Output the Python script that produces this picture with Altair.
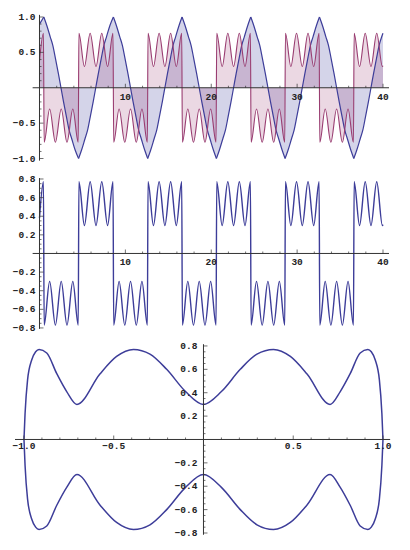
import altair as alt
import pandas as pd

# ---------------- data ----------------
# top panel, blue curve (smooth triangle-like wave with cusps at +-1)
blue_t = [
    0.0, 0.5,
    0.85, 1.25, 1.55, 1.85, 2.2, 2.5, 2.8, 3.15, 3.45, 3.75, 4.15, 4.55,
    4.9, 5.3, 5.6, 5.9, 6.25, 6.55, 6.85, 7.2, 7.5, 7.8, 8.2, 8.6,
    8.95, 9.35, 9.65, 9.95, 10.3, 10.6, 10.9, 11.25, 11.55, 11.85, 12.25, 12.6,
    12.95, 13.35, 13.65, 13.95, 14.3, 14.6, 14.9, 15.25, 15.55, 15.85, 16.25, 16.6,
    16.95, 17.35, 17.65, 17.95, 18.3, 18.6, 18.9, 19.25, 19.55, 19.85, 20.25, 20.6,
    20.95, 21.35, 21.65, 21.95, 22.3, 22.6, 22.9, 23.25, 23.55, 23.85, 24.25, 24.6,
    24.95, 25.35, 25.65, 25.95, 26.3, 26.6, 26.9, 27.25, 27.55, 27.85, 28.25, 28.6,
    28.95, 29.35, 29.65, 29.95, 30.3, 30.6, 30.9, 31.25, 31.55, 31.85, 32.25, 32.6,
    32.95, 33.35, 33.65, 33.95, 34.3, 34.6, 34.9, 35.25, 35.55, 35.85, 36.25, 36.6,
    36.95, 37.35, 37.65, 37.95, 38.3, 38.6, 38.9, 39.25, 39.55, 39.85, 40.0,
]
blue_v = [
    0.9, 1.0,
    0.88, 0.72, 0.6, 0.42, 0.2, 0.0, -0.2, -0.42, -0.6, -0.72, -0.88, -1.0,
    -0.88, -0.72, -0.6, -0.42, -0.2, 0.0, 0.2, 0.42, 0.6, 0.72, 0.88, 1.0,
    0.88, 0.72, 0.6, 0.42, 0.2, 0.0, -0.2, -0.42, -0.6, -0.72, -0.88, -1.0,
    -0.88, -0.72, -0.6, -0.42, -0.2, 0.0, 0.2, 0.42, 0.6, 0.72, 0.88, 1.0,
    0.88, 0.72, 0.6, 0.42, 0.2, 0.0, -0.2, -0.42, -0.6, -0.72, -0.88, -1.0,
    -0.88, -0.72, -0.6, -0.42, -0.2, 0.0, 0.2, 0.42, 0.6, 0.72, 0.88, 1.0,
    0.88, 0.72, 0.6, 0.42, 0.2, 0.0, -0.2, -0.42, -0.6, -0.72, -0.88, -1.0,
    -0.88, -0.72, -0.6, -0.42, -0.2, 0.0, 0.2, 0.42, 0.6, 0.72, 0.88, 1.0,
    0.88, 0.72, 0.6, 0.42, 0.2, 0.0, -0.2, -0.42, -0.6, -0.72, -0.88, -1.0,
    -0.88, -0.72, -0.6, -0.42, -0.2, 0.0, 0.2, 0.42, 0.6, 0.72, 0.77,
]

# red (square-ish, rippled) curve, shown in top and middle panels
red_t = [
    0.0, 0.46, 0.54,
    1.18, 1.85, 2.53, 3.2, 3.88, 4.51, 4.59,
    5.23, 5.9, 6.58, 7.25, 7.93, 8.56, 8.64,
    9.27, 9.93, 10.6, 11.27, 11.93, 12.56, 12.64,
    13.27, 13.93, 14.6, 15.27, 15.93, 16.56, 16.64,
    17.27, 17.93, 18.6, 19.27, 19.93, 20.56, 20.64,
    21.27, 21.93, 22.6, 23.27, 23.93, 24.56, 24.64,
    25.27, 25.93, 26.6, 27.27, 27.93, 28.56, 28.64,
    29.27, 29.93, 30.6, 31.27, 31.93, 32.56, 32.64,
    33.27, 33.93, 34.6, 35.27, 35.93, 36.56, 36.64,
    37.27, 37.93, 38.6, 39.27, 39.93, 40.0,
]
red_v = [
    0.38, 0.77, -0.77,
    -0.3, -0.77, -0.3, -0.77, -0.3, -0.77, 0.77,
    0.3, 0.77, 0.3, 0.77, 0.3, 0.77, -0.77,
    -0.3, -0.77, -0.3, -0.77, -0.3, -0.77, 0.77,
    0.3, 0.77, 0.3, 0.77, 0.3, 0.77, -0.77,
    -0.3, -0.77, -0.3, -0.77, -0.3, -0.77, 0.77,
    0.3, 0.77, 0.3, 0.77, 0.3, 0.77, -0.77,
    -0.3, -0.77, -0.3, -0.77, -0.3, -0.77, 0.77,
    0.3, 0.77, 0.3, 0.77, 0.3, 0.77, -0.77,
    -0.3, -0.77, -0.3, -0.77, -0.3, -0.77, 0.77,
    0.3, 0.77, 0.3, 0.77, 0.3, 0.31,
]

# bottom panel: parametric curve (blue, red)
param_x = [-1.0, -0.994, -0.98, -0.957, -0.935, -0.916, -0.873, -0.818, -0.762, -0.705,
           -0.577, -0.484, -0.39, -0.298, -0.205, -0.1, 0.0,
           0.1, 0.205, 0.298, 0.39, 0.484, 0.577,
           0.705, 0.762, 0.818, 0.873, 0.916, 0.935, 0.957, 0.98, 0.994, 1.0]
param_y_upper = [0.0, 0.22, 0.51, 0.68, 0.75, 0.77, 0.74, 0.565, 0.41, 0.3,
                 0.56, 0.71, 0.77, 0.73, 0.6, 0.41, 0.3,
                 0.41, 0.6, 0.73, 0.77, 0.71, 0.56,
                 0.3, 0.41, 0.565, 0.74, 0.77, 0.75, 0.68, 0.51, 0.22, 0.0]
param_y_lower = [0.0, -0.22, -0.51, -0.68, -0.75, -0.77, -0.74, -0.565, -0.41, -0.3,
                 -0.56, -0.71, -0.77, -0.73, -0.6, -0.41, -0.3,
                 -0.41, -0.6, -0.73, -0.77, -0.71, -0.56,
                 -0.3, -0.41, -0.565, -0.74, -0.77, -0.75, -0.68, -0.51, -0.22, 0.0]

# tick values and labels
t_major = [10, 20, 30, 40]
t_major_labels = ["10", "20", "30", "40"]
t_minor = [2, 4, 6, 8, 12, 14, 16, 18, 22, 24, 26, 28, 32, 34, 36, 38]
top_y_major = [-1.0, -0.5, 0.5, 1.0]
top_y_labels = ["\u22121.0", "\u22120.5", "0.5", "1.0"]
top_y_minor = [-0.9, -0.8, -0.7, -0.6, -0.4, -0.3, -0.2, -0.1,
               0.1, 0.2, 0.3, 0.4, 0.6, 0.7, 0.8, 0.9]
p8_major = [-0.8, -0.6, -0.4, -0.2, 0.2, 0.4, 0.6, 0.8]
p8_labels = ["\u22120.8", "\u22120.6", "\u22120.4", "\u22120.2", "0.2", "0.4", "0.6", "0.8"]
p8_minor = [-0.75, -0.7, -0.65, -0.55, -0.5, -0.45, -0.35, -0.3, -0.25, -0.15, -0.1, -0.05,
            0.05, 0.1, 0.15, 0.25, 0.3, 0.35, 0.45, 0.5, 0.55, 0.65, 0.7, 0.75]
bx_major = [-1.0, -0.5, 0.5, 1.0]
bx_labels = ["\u22121.0", "\u22120.5", "0.5", "1.0"]
bx_minor = [-0.9, -0.8, -0.7, -0.6, -0.4, -0.3, -0.2, -0.1,
            0.1, 0.2, 0.3, 0.4, 0.6, 0.7, 0.8, 0.9]

# ---------------- styling ----------------
BLUE = "#3d3d99"
RED = "#993d71"
AXIS = "#333333"
FONT = "Liberation Mono"
W = 394

assert len(blue_t) == len(blue_v)
assert len(red_t) == len(red_v)
assert len(param_x) == len(param_y_upper) == len(param_y_lower)

# split the blue curve at its cusps (+-1) so the peaks stay pointed
seg_rows = []
seg = 0
for t, v in zip(blue_t, blue_v):
    seg_rows.append({"t": t, "v": v, "seg": seg})
    if abs(v) >= 1.0:
        seg += 1
        seg_rows.append({"t": t, "v": v, "seg": seg})
blue_df = pd.DataFrame(seg_rows)
red_df = pd.DataFrame({"t": red_t, "v": red_v})
param_df = pd.concat([
    pd.DataFrame({"x": param_x, "y": param_y_upper, "half": "upper"}),
    pd.DataFrame({"x": param_x, "y": param_y_lower, "half": "lower"}),
])


def S(domain):
    return alt.Scale(domain=domain, nice=False, zero=False)


def axes(xs, ys, x_ext, y_ext, x_major, x_labels, x_minor, y_major, y_labels, y_minor,
         xlab_dy, ylab_dx):
    layers = []
    layers.append(alt.Chart(pd.DataFrame({"a": [x_ext[0]], "b": [x_ext[1]]})).mark_rule(
        color=AXIS, strokeWidth=1).encode(
        x=alt.X("a:Q", scale=xs), x2="b:Q", y=alt.YDatum(0, scale=ys)))
    layers.append(alt.Chart(pd.DataFrame({"a": [y_ext[0]], "b": [y_ext[1]]})).mark_rule(
        color=AXIS, strokeWidth=1).encode(
        y=alt.Y("a:Q", scale=ys), y2="b:Q", x=alt.XDatum(0, scale=xs)))
    for vals, size in ((x_major, 4), (x_minor, 2)):
        layers.append(alt.Chart(pd.DataFrame({"p": vals})).mark_tick(
            orient="vertical", size=size, thickness=1, color=AXIS, yOffset=-size / 2).encode(
            x=alt.X("p:Q", scale=xs), y=alt.YDatum(0, scale=ys)))
    for vals, size in ((y_major, 4), (y_minor, 2)):
        layers.append(alt.Chart(pd.DataFrame({"p": vals})).mark_tick(
            orient="horizontal", size=size, thickness=1, color=AXIS, xOffset=size / 2).encode(
            y=alt.Y("p:Q", scale=ys), x=alt.XDatum(0, scale=xs)))
    layers.append(alt.Chart(pd.DataFrame({"p": x_major, "lab": x_labels})).mark_text(
        font=FONT, fontSize=9.5, fontWeight="bold", color="#222222",
        align="center", baseline="top", dy=xlab_dy).encode(
        x=alt.X("p:Q", scale=xs), y=alt.YDatum(0, scale=ys), text="lab:N"))
    layers.append(alt.Chart(pd.DataFrame({"p": y_major, "lab": y_labels})).mark_text(
        font=FONT, fontSize=9.5, fontWeight="bold", color="#222222",
        align="right", baseline="middle", dx=ylab_dx).encode(
        y=alt.Y("p:Q", scale=ys), x=alt.XDatum(0, scale=xs), text="lab:N"))
    return layers


# ---------------- top panel ----------------
xs_t = S([-3.668, 42.213])
ys_top = S([-1.134, 1.127])
top_layers = [
    alt.Chart(blue_df).mark_area(interpolate="monotone", color=BLUE, fillOpacity=0.22).encode(
        x=alt.X("t:Q", scale=xs_t), y=alt.Y("v:Q", scale=ys_top), y2=alt.Y2Datum(0),
        detail="seg:N"),
    alt.Chart(red_df).mark_area(interpolate="monotone", color=RED, fillOpacity=0.2).encode(
        x=alt.X("t:Q", scale=xs_t), y=alt.Y("v:Q", scale=ys_top), y2=alt.Y2Datum(0)),
    alt.Chart(blue_df).mark_line(interpolate="monotone", color=BLUE, strokeWidth=1.2).encode(
        x=alt.X("t:Q", scale=xs_t), y=alt.Y("v:Q", scale=ys_top), detail="seg:N"),
    alt.Chart(red_df).mark_line(interpolate="monotone", color=RED, strokeWidth=1.1).encode(
        x=alt.X("t:Q", scale=xs_t), y=alt.Y("v:Q", scale=ys_top)),
] + axes(xs_t, ys_top, [-0.8, 40.7], [-1.03, 1.03], t_major, t_major_labels, t_minor,
         top_y_major, top_y_labels, top_y_minor, 4, -4)
top = alt.layer(*top_layers).properties(width=W, height=160)

# ---------------- middle panel ----------------
ys_mid = S([-0.908, 0.918])
mid_layers = [
    alt.Chart(red_df).mark_line(interpolate="monotone", color=BLUE, strokeWidth=1.4).encode(
        x=alt.X("t:Q", scale=xs_t), y=alt.Y("v:Q", scale=ys_mid)),
] + axes(xs_t, ys_mid, [-0.8, 40.7], [-0.81, 0.81], t_major, t_major_labels, t_minor,
         p8_major, p8_labels, p8_minor, 4, -4)
mid = alt.layer(*mid_layers).properties(width=W, height=170)

# ---------------- bottom panel ----------------
xs_b = S([-1.089, 1.106])
ys_b = S([-0.877, 0.868])
bot_layers = [
    alt.Chart(param_df).mark_line(interpolate="monotone", color=BLUE, strokeWidth=1.5).encode(
        x=alt.X("x:Q", scale=xs_b), y=alt.Y("y:Q", scale=ys_b), detail="half:N"),
] + axes(xs_b, ys_b, [-1.05, 1.04], [-0.815, 0.815], bx_major, bx_labels, bx_minor,
         p8_major, p8_labels, p8_minor, 2, -6)
bot = alt.layer(*bot_layers).properties(width=W, height=204)

chart = alt.vconcat(top, mid, bot, spacing=0, bounds="flush").properties(
    padding=0
).configure_view(strokeWidth=0).configure_axis(disable=True)

chart.save("out.html", embed_options={"renderer": "svg", "actions": False})
